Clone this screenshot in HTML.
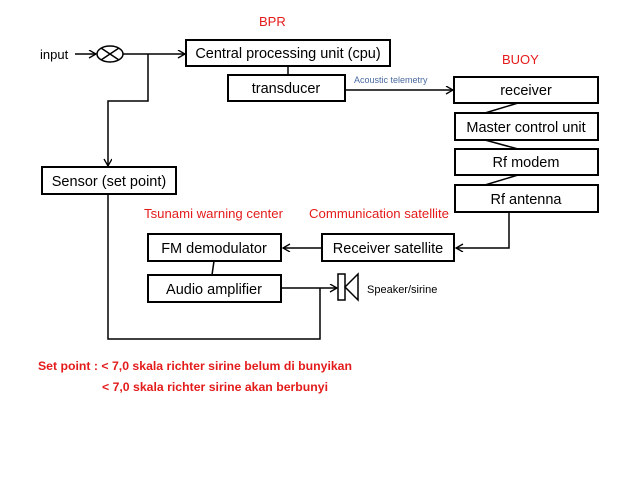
<!DOCTYPE html>
<html><head><meta charset="utf-8"><style>
body{margin:0;background:#fff;}
svg text{font-family:"Liberation Sans",sans-serif;}
</style></head><body>
<svg width="638" height="478" xmlns="http://www.w3.org/2000/svg">
<defs><marker id="a" markerWidth="10" markerHeight="10" refX="8" refY="4" orient="auto" markerUnits="userSpaceOnUse"><path d="M1,0 L8,4 L1,8" fill="none" stroke="#000" stroke-width="1.3"/></marker></defs>
<g fill="#fff" stroke="#000" stroke-width="2">
<rect x="186" y="40" width="204" height="26"/>
<rect x="228" y="75" width="117" height="26"/>
<rect x="454" y="77" width="144" height="26"/>
<rect x="455" y="113" width="143" height="27"/>
<rect x="455" y="149" width="143" height="26"/>
<rect x="455" y="185" width="143" height="27"/>
<rect x="42" y="167" width="134" height="27"/>
<rect x="148" y="234" width="133" height="27"/>
<rect x="322" y="234" width="132" height="27"/>
<rect x="148" y="275" width="133" height="27"/>
</g>
<g fill="none" stroke="#000" stroke-width="1.5">
<ellipse cx="110" cy="54" rx="13" ry="8"/>
<path d="M101,48 L119,60 M101,60 L119,48"/>
<path d="M75,54 H96" marker-end="url(#a)"/>
<path d="M123,54 H185" marker-end="url(#a)"/>
<path d="M148,54 V101 H108 V166" marker-end="url(#a)"/>
<path d="M288,66 V75"/>
<path d="M345,90 H453" marker-end="url(#a)"/>
<path d="M518,103 L485,113 M485,140 L518,149 M518,175 L485,185"/>
<path d="M509,212 V248 H456" marker-end="url(#a)"/>
<path d="M322,248 H283" marker-end="url(#a)"/>
<path d="M214,261 L212,275"/>
<path d="M281,288 H337" marker-end="url(#a)"/>
<path d="M108,194 V339 H320 V288"/>
<rect x="338" y="274" width="7" height="26"/>
<path d="M345,287 L358,274 V300 Z"/>
</g>
<g font-size="14.5" text-anchor="middle" fill="#000">
<text x="288" y="58">Central processing unit (cpu)</text>
<text x="286" y="93">transducer</text>
<text x="526" y="95">receiver</text>
<text x="526" y="132">Master control unit</text>
<text x="526" y="167">Rf modem</text>
<text x="526" y="204">Rf antenna</text>
<text x="109" y="186">Sensor (set point)</text>
<text x="214" y="253">FM demodulator</text>
<text x="388" y="253">Receiver satellite</text>
<text x="214" y="294">Audio amplifier</text>
</g>
<text x="40" y="59" font-size="13">input</text>
<text x="367" y="293" font-size="11">Speaker/sirine</text>
<text x="354" y="83" font-size="9" fill="#4a6aa0">Acoustic telemetry</text>
<g fill="#e41b1b" font-size="13">
<text x="259" y="26">BPR</text>
<text x="502" y="64">BUOY</text>
<text x="144" y="218" textLength="139" lengthAdjust="spacingAndGlyphs">Tsunami warning center</text>
<text x="309" y="218" textLength="140" lengthAdjust="spacingAndGlyphs">Communication satellite</text>
</g>
<g fill="#e41b1b" font-size="12" font-weight="bold">
<text x="38" y="370" textLength="314" lengthAdjust="spacingAndGlyphs">Set point : &lt; 7,0 skala richter sirine belum di bunyikan</text>
<text x="102" y="391" textLength="226" lengthAdjust="spacingAndGlyphs">&lt; 7,0 skala richter sirine akan berbunyi</text>
</g>
</svg>
</body></html>
